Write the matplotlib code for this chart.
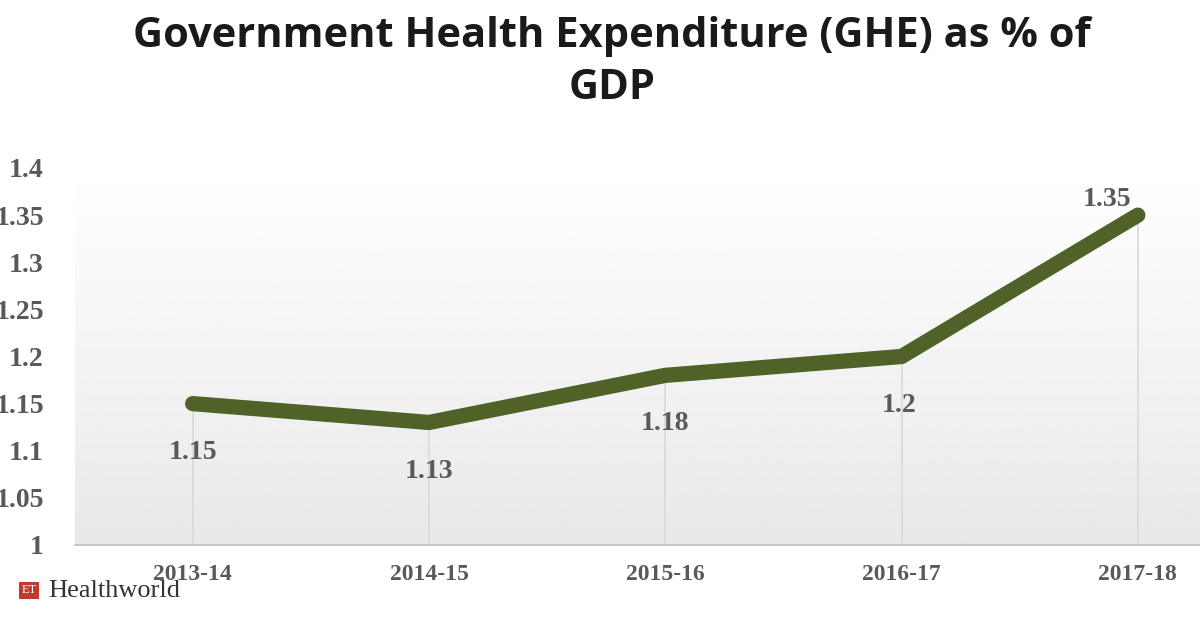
import matplotlib.pyplot as plt
import numpy as np

years = ['2013-14', '2014-15', '2015-16', '2016-17', '2017-18']
ghe_pct = [1.15, 1.13, 1.18, 1.2, 1.35]
label_offsets = [(0, -44), (0, -44), (0, -44), (-2, -44), (-22, 2)]
yticks = [1.0, 1.05, 1.1, 1.15, 1.2, 1.25, 1.3, 1.35, 1.4]

fig = plt.figure(figsize=(12, 6.28), dpi=100)
left = 74.5 / 1200
ax = fig.add_axes([left, 1 - 545 / 628, 1181.5 / 1200, (545 - 168) / 628])
x = np.arange(len(years))

ax.set_xlim(-0.5, len(years) - 0.5)
ax.set_ylim(1.0, 1.4)

# gradient background
grad = np.linspace(0.91, 1.0, 256).reshape(-1, 1)
ax.imshow(grad, cmap='gray', vmin=0, vmax=1, aspect='auto',
          extent=(-0.5, len(years) - 0.5, 1.0, 1.4), origin='lower', zorder=0)

# drop lines
ax.vlines(x, 1.0, ghe_pct, color='#d9d9d9', lw=1.2, zorder=1)
ax.plot(x, ghe_pct, color='#4f6228', lw=11, solid_capstyle='round',
        solid_joinstyle='round', zorder=3)

for xi, v, off in zip(x, ghe_pct, label_offsets):
    ax.annotate(f'{v:g}', (xi, v), xytext=off, textcoords='offset points',
                ha='center', va='bottom', fontsize=20, color='#595959',
                family='Liberation Serif', fontweight='bold', zorder=4)

for s in ['top', 'right', 'left']:
    ax.spines[s].set_visible(False)
ax.spines['bottom'].set_color('#bfbfbf')
ax.spines['bottom'].set_linewidth(1.2)

ax.set_xticks(x)
ax.set_xticklabels(years, fontsize=17, fontweight='bold', color='#595959',
                   family='Liberation Serif')
ax.set_yticks(yticks)
ax.set_yticklabels([f'{t:g}' for t in yticks], fontsize=20, fontweight='bold',
                   color='#595959', family='Liberation Serif')
ax.tick_params(axis='y', length=0, pad=22)
ax.tick_params(axis='x', length=0, pad=14)

fig.text(0.51, 0.975, 'Government Health Expenditure (GHE) as % of\nGDP',
         ha='center', va='top', fontsize=30, fontweight='bold',
         family='Open Sans', color='#1a1a1a', linespacing=1.35)

fig.text(0.018, 0.055, 'ET', fontsize=9, color='white', family='Liberation Serif',
         bbox=dict(facecolor='#c0392b', edgecolor='none', pad=1.5))
fig.text(0.04, 0.05, 'Healthworld', fontsize=19, color='#333333',
         family='Liberation Serif')

fig.savefig('out.png', dpi=100)
